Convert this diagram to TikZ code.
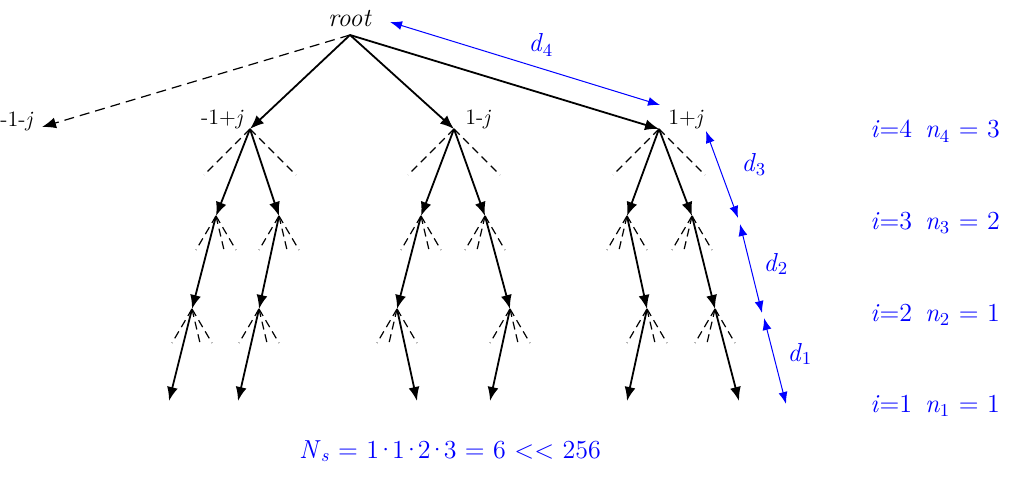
\documentclass[tikz,border=0pt]{standalone}
\usepackage{fontspec}
\usetikzlibrary{arrows.meta, calc}

\newcommand{\tdot}{\kern-0.13em·\kern-0.13em}

\begin{document}
\begin{tikzpicture}[x=0.5pt, y=-0.5pt, >={Latex[length=7pt,width=5.5pt]},
    branch/.style={->, line width=0.9pt},
    pruned/.style={line width=0.6pt, dash pattern=on 4pt off 2.5pt},
    dist/.style={{Latex[length=6pt,width=4.5pt]}-{Latex[length=6pt,width=4.5pt]}, blue, line width=0.5pt},
    sym/.style={inner sep=0pt, font=\fontsize{11}{13}\selectfont},
    bluetxt/.style={text=blue, inner sep=0pt, font=\fontsize{13}{16}\selectfont}]

    \useasboundingbox (0,0) rectangle (1026,485);

    % tree points
    \coordinate (root) at (350,35);
    \coordinate (mmj) at (42,127);
    \coordinate (n4a) at (250,129);
    \coordinate (n4b) at (454,129);
    \coordinate (n4c) at (659,129);

    \coordinate (a31) at (216,216);
    \coordinate (a32) at (279,216);
    \coordinate (b31) at (421,216);
    \coordinate (b32) at (485,216);
    \coordinate (c31) at (627,216);
    \coordinate (c32) at (692,216);

    \coordinate (a21) at (192,309);
    \coordinate (a22) at (259,309);
    \coordinate (b21) at (397,309);
    \coordinate (b22) at (510,309);
    \coordinate (c21) at (647,309);
    \coordinate (c22) at (715,309);

    \coordinate (a11) at (169,401);
    \coordinate (a12) at (238,401);
    \coordinate (b11) at (417,401);
    \coordinate (b12) at (490,401);
    \coordinate (c11) at (627,401);
    \coordinate (c12) at (739,401);

    % symbol labels
    \node [sym, anchor=base, font=\fontsize{13}{16}\selectfont] (rootlbl) at (350,27) {\textit{root}};
    \node [sym, anchor=base west] (mmjlbl) at (0,127) {-1-\textit{j}};
    \node [sym, anchor=base east] (n4albl) at (244,125) {-1+\textit{j}};
    \node [sym, anchor=base west] (n4blbl) at (465,125) {1-\textit{j}};
    \node [sym, anchor=base west] (n4clbl) at (668,125) {1+\textit{j}};

    % pruned branches
    \draw [pruned, ->, dash pattern=on 5pt off 3pt] (root) -- (mmj);
    \foreach \n in {n4a, n4b, n4c} {
        \draw [pruned] (\n) -- ++(-46,46);
        \draw [pruned] (\n) -- ++(46,46);
    }
    \foreach \n/\dirs in {a31/{-20,8,20}, a32/{-20,8,20}, b31/{-20,8,20}, b32/{-20,-8,20},
                          c31/{-20,-8,20}, c32/{-20,-8,20},
                          a21/{-20,8,20}, a22/{-20,8,20}, b21/{-20,-8,20}, b22/{-20,8,20},
                          c21/{-20,8,20}, c22/{-20,-8,20}} {
        \foreach \dx in \dirs {
            \draw [pruned] (\n) -- ++(\dx,34);
        }
    }

    % surviving branches
    \draw [branch] (root) -- (n4a);
    \draw [branch] (root) -- (n4b);
    \draw [branch] (root) -- (n4c);

    \draw [branch] (n4a) -- (a31);
    \draw [branch] (n4a) -- (a32);
    \draw [branch] (n4b) -- (b31);
    \draw [branch] (n4b) -- (b32);
    \draw [branch] (n4c) -- (c31);
    \draw [branch] (n4c) -- (c32);

    \draw [branch] (a31) -- (a21);
    \draw [branch] (a32) -- (a22);
    \draw [branch] (b31) -- (b21);
    \draw [branch] (b32) -- (b22);
    \draw [branch] (c31) -- (c21);
    \draw [branch] (c32) -- (c22);

    \draw [branch] (a21) -- (a11);
    \draw [branch] (a22) -- (a12);
    \draw [branch] (b21) -- (b11);
    \draw [branch] (b22) -- (b12);
    \draw [branch] (c21) -- (c11);
    \draw [branch] (c22) -- (c12);

    % distances
    \coordinate (d4s) at (390,22);
    \coordinate (d4e) at (660,105);
    \coordinate (d3s) at (706,131);
    \coordinate (d3e) at (738,218);
    \coordinate (d2s) at (740,224);
    \coordinate (d2e) at (762,313);
    \coordinate (d1s) at (764,318);
    \coordinate (d1e) at (786,404);
    \draw [dist] (d4s) -- (d4e);
    \draw [dist] (d3s) -- (d3e);
    \draw [dist] (d2s) -- (d2e);
    \draw [dist] (d1s) -- (d1e);
    \node [bluetxt] (d4lbl) at (541,45) {\textit{d}\textsubscript{4}};
    \node [bluetxt] (d3lbl) at (754,165) {\textit{d}\textsubscript{3}};
    \node [bluetxt] (d2lbl) at (776,264) {\textit{d}\textsubscript{2}};
    \node [bluetxt] (d1lbl) at (800,354) {\textit{d}\textsubscript{1}};

    % levels
    \node [bluetxt, anchor=base west] (lev4) at (870,138) {\textit{i}=4\hspace{0.5em}\textit{n}\textsubscript{4} = 3};
    \node [bluetxt, anchor=base west] (lev3) at (870,230) {\textit{i}=3\hspace{0.5em}\textit{n}\textsubscript{3} = 2};
    \node [bluetxt, anchor=base west] (lev2) at (870,322) {\textit{i}=2\hspace{0.5em}\textit{n}\textsubscript{2} = 1};
    \node [bluetxt, anchor=base west] (lev1) at (870,413) {\textit{i}=1\hspace{0.5em}\textit{n}\textsubscript{1} = 1};

    \node [bluetxt, anchor=base] (ns) at (450,458) {\textit{N}\textsubscript{\textit{s}} = 1\tdot1\tdot2\tdot3 = 6 <{}< 256};
\end{tikzpicture}
\end{document}
